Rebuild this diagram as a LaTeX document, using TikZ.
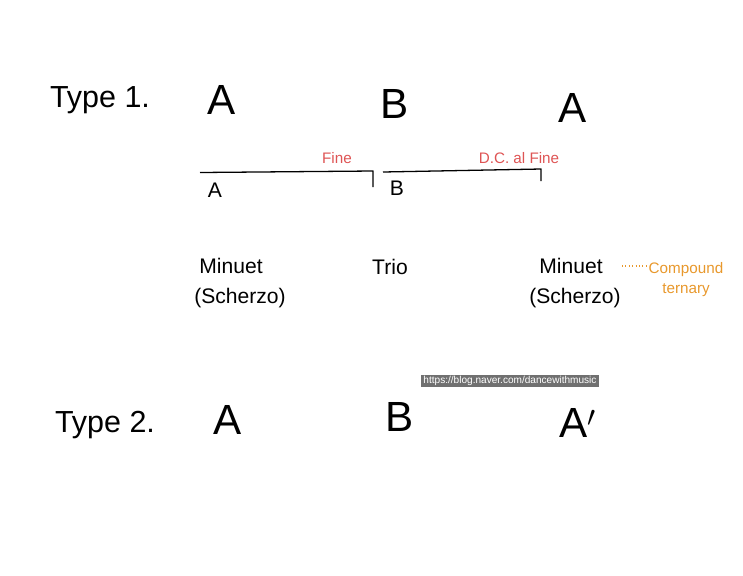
\documentclass[tikz,border=0pt]{standalone}
\usepackage{fontspec}
\setmainfont{Liberation Sans}
\usepackage{tikz}
\definecolor{fred}{RGB}{222,84,84}
\definecolor{forange}{RGB}{232,152,44}
\definecolor{urlgray}{RGB}{112,112,112}
\tikzstyle{typelabel}=[inner sep=0pt,font=\fontsize{26}{28}\selectfont]
\tikzstyle{section}=[inner sep=0pt,font=\fontsize{36}{38}\selectfont]
\tikzstyle{small}=[inner sep=0pt,font=\fontsize{18}{20}\selectfont]
\tikzstyle{redmark}=[inner sep=0pt,text=fred,font=\fontsize{13}{15}\selectfont]
\tikzstyle{note}=[inner sep=0pt,text=forange,align=center,font=\fontsize{13}{17}\selectfont]
\tikzstyle{url}=[fill=urlgray,text=white,inner xsep=2pt,inner ysep=1.5pt,font=\fontsize{8.6}{9}\selectfont]
\tikzstyle{none}=[inner sep=0pt]
\tikzstyle{bracket}=[-,line width=1.1,line join=round]
\tikzstyle{dots}=[-,draw=forange,dotted,line width=0.9]
\begin{document}
\begin{tikzpicture}[x=0.03cm,y=-0.03cm]
	\useasboundingbox (0,0) rectangle (743,575);
	% type 1
	\node [style=typelabel] (t1) at (100,100) {Type 1.};
	\node [style=section] (A1) at (222,100) {A};
	\node [style=section] (B1) at (395,104) {B};
	\node [style=section] (A2) at (573,108) {A};

	\node [style=none] (l1) at (200,172.5) {};
	\node [style=none] (r1) at (373,171) {};
	\node [style=none] (r1b) at (373,187) {};
	\node [style=none] (l2) at (383,172) {};
	\node [style=none] (r2) at (541,169) {};
	\node [style=none] (r2b) at (541,181) {};
	\node [style=redmark] (fine) at (337,158) {Fine};
	\node [style=redmark] (dcfine) at (519,158) {D.C. al Fine};
	\node [style=small] (a) at (215,190) {A};
	\node [style=small] (b) at (397,188) {B};

	\node [style=small] (min1) at (231,266) {Minuet};
	\node [style=small] (sch1) at (240,298) {(Scherzo)};
	\node [style=small] (trio) at (390,267) {Trio};
	\node [style=small] (min2) at (571,266) {Minuet};
	\node [style=small] (sch2) at (575,298) {(Scherzo)};
	\node [style=none] (d1) at (622,266) {};
	\node [style=none] (d2) at (648,266) {};
	\node [style=note] (comp) at (686,280) {Compound\\ternary};

	\node [style=url] (link) at (510,381) {https://blog.naver.com/dancewithmusic};

	% type 2
	\node [style=typelabel] (t2) at (105,425) {Type 2.};
	\node [style=section] (A3) at (228,420) {A};
	\node [style=section] (B2) at (400,417) {B};
	\node [style=section] (A4) at (578,423) {A$'$};

	\draw [style=bracket] (l1.center) to (r1.center) to (r1b.center);
	\draw [style=bracket] (l2.center) to (r2.center) to (r2b.center);
	\draw [style=dots] (d1.center) to (d2.center);
\end{tikzpicture}
\end{document}
